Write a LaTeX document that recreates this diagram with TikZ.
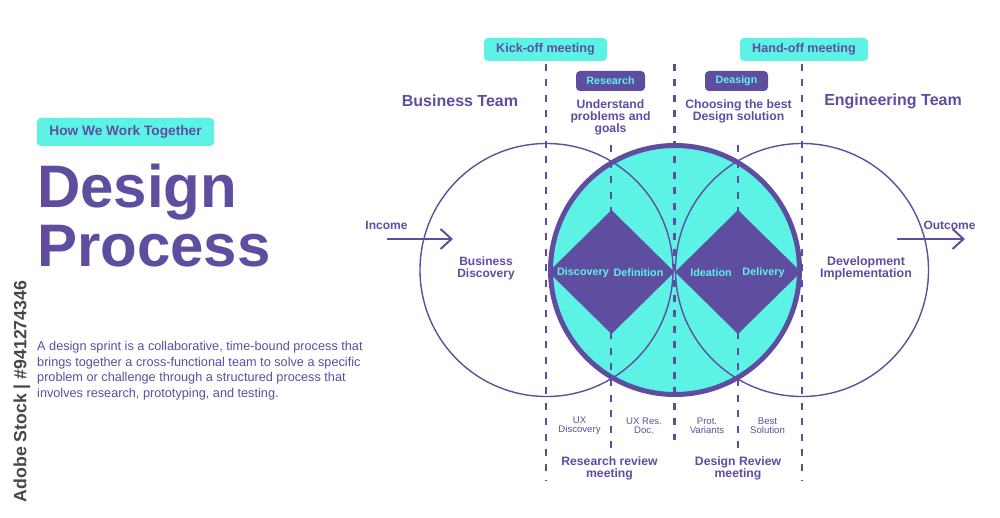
\documentclass[tikz,border=0pt]{standalone}
\usepackage{fontspec}
\setmainfont{Liberation Sans}
\usetikzlibrary{arrows.meta}
\definecolor{pur}{HTML}{5F4DA0}
\definecolor{cya}{HTML}{5CF3E6}
\newcommand{\fsz}[2]{\fontsize{#1}{#2}\selectfont}
\tikzset{
  x=1pt,y=-1pt,
  box/.style={rounded corners=4pt,inner sep=0pt,font=\fsz{12.6}{14}\bfseries},
  cybox/.style={box,fill=cya,text=pur},
  pubox/.style={box,fill=pur,text=cya,font=\fsz{10.7}{12}\bfseries},
  head/.style={text=pur,align=center,font=\fsz{12.2}{12}\bfseries,inner sep=0pt,yshift=-2.6pt},
  team/.style={text=pur,font=\fsz{16}{16}\bfseries,inner sep=0pt,yshift=-0.5pt},
  side/.style={text=pur,align=center,font=\fsz{12}{12}\bfseries,inner sep=0pt,yshift=-1.5pt},
  phase/.style={text=cya,font=\fsz{10.8}{12}\bfseries,inner sep=0pt,yshift=-0.5pt},
  small/.style={text=pur,align=center,font=\fsz{9.6}{9.2},inner sep=0pt,yshift=-1pt},
  thin ring/.style={draw=pur,line width=1.4pt},
  guide/.style={draw=pur,line width=1.3pt,dash pattern=on 7pt off 8.4pt},
  innerguide/.style={draw=pur,line width=1.3pt,dash pattern=on 7pt off 8.6pt},
  mainguide/.style={draw=pur,line width=3pt,dash pattern=on 7pt off 8.4pt},
  flow/.style={draw=pur,line width=2pt,-{Straight Barb[length=11pt,width=20pt,line width=2pt]}},
}
\begin{document}
\begin{tikzpicture}
\useasboundingbox (0,0) rectangle (1000,518);
\fill[white] (0,0) rectangle (1000,518);
% central disc and diamonds
\fill[cya] (675,270) circle[radius=125];
\fill[pur] (548.5,272) -- (611.5,210) -- (674.5,272) -- (611.5,334) -- cycle;
\fill[pur] (675,272) -- (738,210) -- (801,272) -- (738,334) -- cycle;
\draw[thin ring] (546.5,270) circle[radius=126.5];
\draw[thin ring] (802,270) circle[radius=126.5];
\draw[draw=pur,line width=5pt] (675,270) circle[radius=124.5];
% guides
\node[cybox,minimum width=123pt,minimum height=23pt] (kick) at (545.5,49.5) {\raisebox{-0.7pt}{Kick-off meeting}};
\node[cybox,minimum width=128pt,minimum height=23pt] (hand) at (804,49.5) {\raisebox{-0.7pt}{Hand-off meeting}};
\coordinate (k1) at (546,64); \coordinate (kickend) at (546,481);
\coordinate (h1) at (802,64); \coordinate (handend) at (802,481);
\coordinate (a1) at (611,145); \coordinate (a2) at (611,449);
\coordinate (b1) at (738,145); \coordinate (b2) at (738,449);
\coordinate (c1) at (674.5,64); \coordinate (c2) at (674.5,440);
\draw[guide] (k1) -- (kickend);
\draw[guide] (h1) -- (handend);
\draw[innerguide] (a1) -- (a2);
\draw[innerguide] (b1) -- (b2);
\draw[mainguide] (c1) -- (c2);
% left column
\node[cybox,minimum width=177pt,minimum height=28pt,font=\fsz{13.7}{16}\bfseries] (how) at (125.5,132) {\raisebox{-0.6pt}{How We Work Together}};
\node[anchor=base west,text=pur,inner sep=0pt,font=\fsz{60}{60}\bfseries] (t1) at (37,208) {Design};
\node[anchor=base west,text=pur,inner sep=0pt,font=\fsz{60}{60}\bfseries] (t2) at (37,267) {Process};
\node[anchor=north west,text=pur,inner sep=0pt,align=left,font=\fsz{12.7}{15.6}] (para) at (37,341) {A design sprint is a collaborative, time-bound process that\\brings together a cross-functional team to solve a specific\\problem or challenge through a structured process that\\involves research, prototyping, and testing.};
\node[rotate=90,text=black!72,inner sep=0pt,font=\fsz{17.7}{18}\bfseries] (stock) at (22,391.5) {Adobe Stock | \#941274346};
% top labels
\node[pubox,minimum width=69pt,minimum height=20pt] (res) at (610.5,81) {Research};
\node[pubox,minimum width=63pt,minimum height=20pt] (des) at (736.5,81) {Deasign};
\node[team] (bt) at (460,100.5) {Business Team};
\node[team] (et) at (893,100.5) {Engineering Team};
\node[head] (und) at (610.5,115) {Understand\\problems and\\goals};
\node[head] (cho) at (738.5,109) {Choosing the best\\Design solution};
% side
\node[side,yshift=1pt] (inc) at (386.5,225) {Income};
\node[side,yshift=1pt] (out) at (949.5,225) {Outcome};
\node[side] (bd) at (486,267) {Business\\Discovery};
\node[side,font=\fsz{12.4}{12}\bfseries] (dev) at (866,267) {Development\\Implementation};
\coordinate (i1) at (387,239); \coordinate (i2) at (453,239);
\coordinate (o1) at (897,239); \coordinate (o2) at (965,239);
\draw[flow] (i1) -- (i2);
\draw[flow] (o1) -- (o2);
% phases
\node[phase] (p1) at (583,272) {Discovery};
\node[phase] (p2) at (638.5,272) {Definition};
\node[phase] (p3) at (711,272) {Ideation};
\node[phase] (p4) at (763.5,272) {Delivery};
% bottom
\node[small] (s1) at (579.5,424.5) {UX\\Discovery};
\node[small] (s2) at (644,424.5) {UX Res.\\Doc.};
\node[small] (s3) at (707,424.5) {Prot.\\Variants};
\node[small] (s4) at (767.5,424.5) {Best\\Solution};
\node[head] (m1) at (609.5,466) {Research review\\meeting};
\node[head] (m2) at (738,466) {Design Review\\meeting};
\end{tikzpicture}
\end{document}
